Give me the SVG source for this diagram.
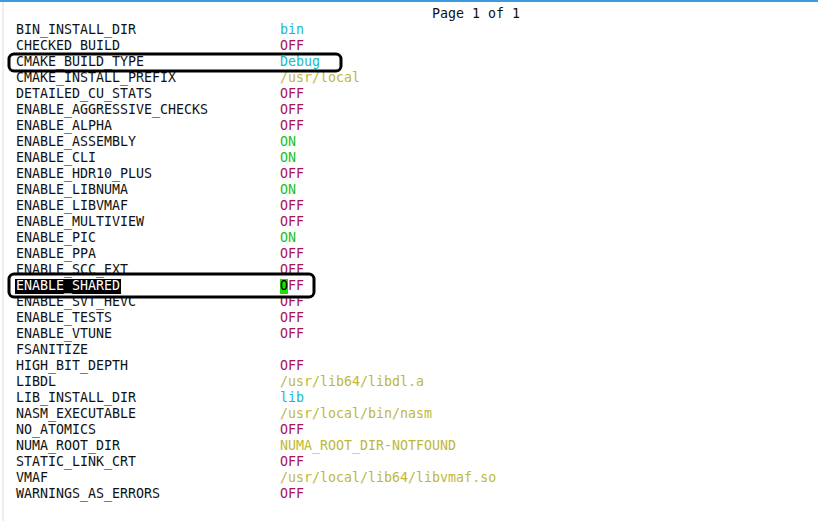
<svg xmlns="http://www.w3.org/2000/svg" width="818" height="521" viewBox="0 0 818 521">
<style>
text{font-family:"DejaVu Sans Mono","Liberation Mono",monospace;font-size:13.3px;fill:#111}
.off{fill:#a8145a}.on{fill:#22c022}.cy{fill:#1ab8c8}.ye{fill:#c0b838}
.box{fill:none;stroke:#000;stroke-width:3}
</style>
<rect width="818" height="521" fill="#fff"/>
<line x1="0" y1="1" x2="818" y2="1" stroke="#3c9be0" stroke-width="2"/>
<line x1="3" y1="2" x2="3" y2="521" stroke="#ddd" stroke-width="1"/>
<text x="432" y="18">Page 1 of 1</text>
<g id="names">
<text x="16" y="34">BIN_INSTALL_DIR</text>
<text x="16" y="50">CHECKED_BUILD</text>
<text x="16" y="66">CMAKE_BUILD_TYPE</text>
<text x="16" y="82">CMAKE_INSTALL_PREFIX</text>
<text x="16" y="98">DETAILED_CU_STATS</text>
<text x="16" y="114">ENABLE_AGGRESSIVE_CHECKS</text>
<text x="16" y="130">ENABLE_ALPHA</text>
<text x="16" y="146">ENABLE_ASSEMBLY</text>
<text x="16" y="162">ENABLE_CLI</text>
<text x="16" y="178">ENABLE_HDR10_PLUS</text>
<text x="16" y="194">ENABLE_LIBNUMA</text>
<text x="16" y="210">ENABLE_LIBVMAF</text>
<text x="16" y="226">ENABLE_MULTIVIEW</text>
<text x="16" y="242">ENABLE_PIC</text>
<text x="16" y="258">ENABLE_PPA</text>
<text x="16" y="274">ENABLE_SCC_EXT</text>
<rect x="15" y="279" width="106" height="15" fill="#000"/>
<text x="16" y="290" fill="#fff" style="fill:#fff">ENABLE_SHARED</text>
<text x="16" y="306">ENABLE_SVT_HEVC</text>
<text x="16" y="322">ENABLE_TESTS</text>
<text x="16" y="338">ENABLE_VTUNE</text>
<text x="16" y="354">FSANITIZE</text>
<text x="16" y="370">HIGH_BIT_DEPTH</text>
<text x="16" y="386">LIBDL</text>
<text x="16" y="402">LIB_INSTALL_DIR</text>
<text x="16" y="418">NASM_EXECUTABLE</text>
<text x="16" y="434">NO_ATOMICS</text>
<text x="16" y="450">NUMA_ROOT_DIR</text>
<text x="16" y="466">STATIC_LINK_CRT</text>
<text x="16" y="482">VMAF</text>
<text x="16" y="498">WARNINGS_AS_ERRORS</text>
</g>
<g id="values">
<text x="280" y="34" class="cy">bin</text>
<text x="280" y="50" class="off">OFF</text>
<text x="280" y="66" class="cy">Debug</text>
<text x="280" y="82" class="ye">/usr/local</text>
<text x="280" y="98" class="off">OFF</text>
<text x="280" y="114" class="off">OFF</text>
<text x="280" y="130" class="off">OFF</text>
<text x="280" y="146" class="on">ON</text>
<text x="280" y="162" class="on">ON</text>
<text x="280" y="178" class="off">OFF</text>
<text x="280" y="194" class="on">ON</text>
<text x="280" y="210" class="off">OFF</text>
<text x="280" y="226" class="off">OFF</text>
<text x="280" y="242" class="on">ON</text>
<text x="280" y="258" class="off">OFF</text>
<text x="280" y="274" class="off">OFF</text>
<rect x="280" y="279" width="8" height="15" fill="#22dd00"/>
<text x="280" y="290"><tspan fill="#000" style="fill:#000">O</tspan><tspan class="off">FF</tspan></text>
<text x="280" y="306" class="off">OFF</text>
<text x="280" y="322" class="off">OFF</text>
<text x="280" y="338" class="off">OFF</text>
<text x="280" y="370" class="off">OFF</text>
<text x="280" y="386" class="ye">/usr/lib64/libdl.a</text>
<text x="280" y="402" class="cy">lib</text>
<text x="280" y="418" class="ye">/usr/local/bin/nasm</text>
<text x="280" y="434" class="off">OFF</text>
<text x="280" y="450" class="ye">NUMA_ROOT_DIR-NOTFOUND</text>
<text x="280" y="466" class="off">OFF</text>
<text x="280" y="482" class="ye">/usr/local/lib64/libvmaf.so</text>
<text x="280" y="498" class="off">OFF</text>
</g>
<g id="highlights">
<rect class="box" x="9" y="54" width="332" height="17" rx="5"/>
<rect class="box" x="9" y="274" width="305" height="23" rx="5"/>
</g>
</svg>
